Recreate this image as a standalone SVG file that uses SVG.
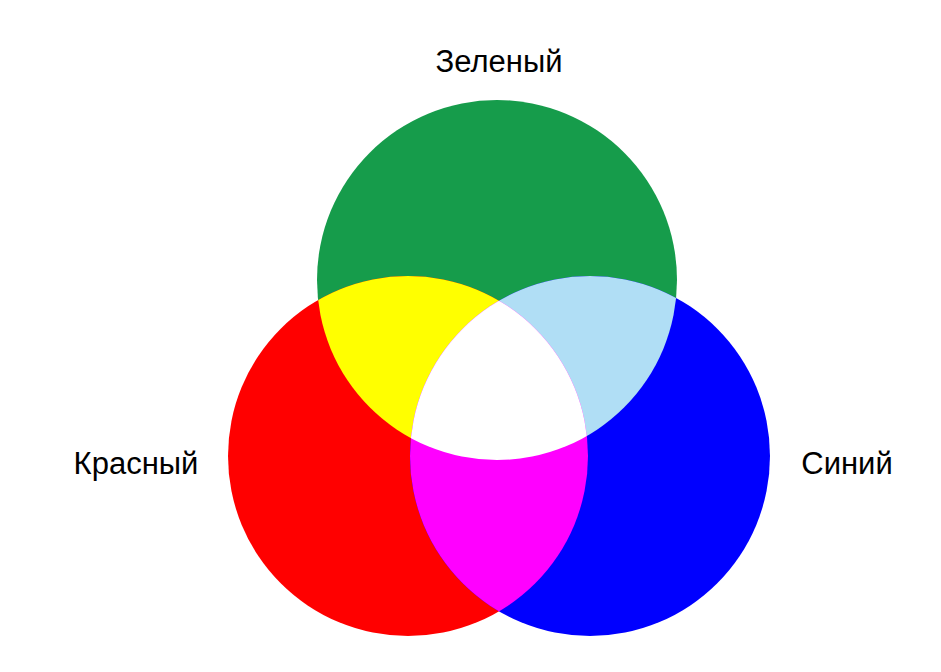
<svg xmlns="http://www.w3.org/2000/svg" width="941" height="672" viewBox="0 0 941 672">
<style>
.lbl{font-family:"Liberation Sans",Arial,sans-serif;font-size:31px;fill:#000;text-anchor:middle}
</style>
<defs>
<clipPath id="cRed"><circle cx="408" cy="456" r="180"/></clipPath>
<clipPath id="cBlue"><circle cx="590" cy="456" r="180"/></clipPath>
<clipPath id="cGreen"><circle cx="497" cy="280" r="180"/></clipPath>
</defs>
<rect width="941" height="672" fill="#fff"/>
<g id="green"><circle cx="497" cy="280" r="180" fill="#169c4b"/></g>
<g id="red"><circle cx="408" cy="456" r="180" fill="#ff0000"/></g>
<g id="blue"><circle cx="590" cy="456" r="180" fill="#0000ff"/></g>
<g id="yellow" clip-path="url(#cRed)"><circle cx="497" cy="280" r="180" fill="#ffff00"/></g>
<g id="cyan" clip-path="url(#cBlue)"><circle cx="497" cy="280" r="180" fill="#b0def5"/></g>
<g id="magenta" clip-path="url(#cRed)"><circle cx="590" cy="456" r="180" fill="#ff00ff"/></g>
<g id="white" clip-path="url(#cGreen)"><g clip-path="url(#cRed)"><circle cx="590" cy="456" r="180" fill="#ffffff"/></g></g>
<text class="lbl" x="499" y="72">Зеленый</text>
<text class="lbl" x="136" y="474">Красный</text>
<text class="lbl" x="847" y="474">Синий</text>
</svg>
